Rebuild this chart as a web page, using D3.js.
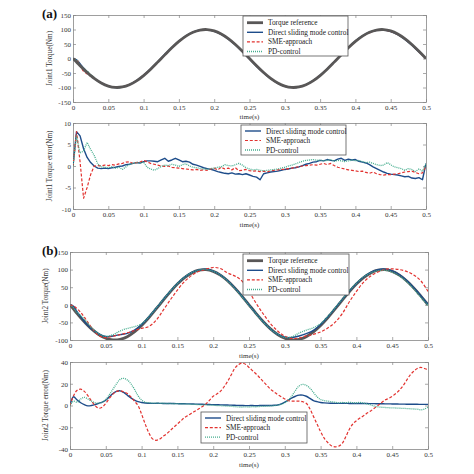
<!DOCTYPE html>
<html>
<head>
<meta charset="utf-8">
<script src="https://cdn.jsdelivr.net/npm/d3@7"></script>
<style>
  body { margin: 0; background: #fff; }
  svg { font-family: "Liberation Serif", "DejaVu Serif", serif; }
</style>
</head>
<body>
<script>
// sample times for the torque curves (finer at the start)
const torqueTime = [0, 0.005, 0.01, 0.015, 0.02, 0.025, 0.03,
  0.04, 0.05, 0.06, 0.07, 0.08, 0.09, 0.1, 0.11, 0.12, 0.13, 0.14, 0.15, 0.16, 0.17, 0.18, 0.19,
  0.2, 0.21, 0.22, 0.23, 0.24, 0.25, 0.26, 0.27, 0.28, 0.29, 0.3, 0.31, 0.32, 0.33, 0.34, 0.35,
  0.36, 0.37, 0.38, 0.39, 0.4, 0.41, 0.42, 0.43, 0.44, 0.45, 0.46, 0.47, 0.48, 0.49, 0.5];

// torque reference (same in both joints)
const torqueRef = [0, -12.5, -24.9, -36.8, -48.2, -58.8, -68.5,
  -84.4, -95.1, -99.8, -98.2, -90.5, -77.1, -58.8, -36.8, -12.5, 12.5, 36.8, 58.8, 77.1, 90.5, 98.2, 99.8,
  95.1, 84.4, 68.5, 48.2, 24.9, 0, -24.9, -48.2, -68.5, -84.4, -95.1, -99.8, -98.2, -90.5, -77.1, -58.8,
  -36.8, -12.5, 12.5, 36.8, 58.8, 77.1, 90.5, 98.2, 99.8, 95.1, 84.4, 68.5, 48.2, 24.9, 0];

// joint 1 torque
const j1Dsmc = [0, -4.5, -17.9, -32.8, -46.2, -58, -68.5,
  -85, -95.7, -100.1, -98.2, -90.1, -76.3, -57.8, -35.6, -11.5, 14.3, 38.2, 60.2, 78.2, 90.9, 98.1, 99.2,
  94.1, 82.9, 66.7, 46.3, 22.9, -2.1, -27.5, -50, -69.9, -85.6, -95.9, -100.3, -98.4, -90.1, -76.2, -57.5,
  -35.3, -11.3, 14.3, 38.4, 60.3, 78, 90.8, 97.6, 98.4, 93.2, 82.3, 66, 45.4, 22.2, 0.6];
const j1Sme = [0, -4.5, -23.9, -44.3, -53.2, -60.8, -68.5,
  -84.4, -95, -99.6, -97.6, -89.5, -76.3, -57.5, -36.2, -12.3, 12.4, 36.5, 58.3, 76.4, 89.6, 97.2, 98.8,
  94.6, 84.1, 68, 47.8, 23.9, -1.1, -26, -49.4, -69.6, -85.3, -95.9, -100.3, -98.4, -90.4, -76.8, -58.4,
  -36.5, -12.4, 12, 35.9, 57.7, 75.9, 88.8, 96.4, 97.7, 93.1, 82.6, 67.1, 47, 23.1, 0];
const j1Pd = [0, -5.5, -21.9, -33.3, -42.7, -55, -66,
  -84.6, -95.5, -100.3, -99, -90.1, -76.3, -57.9, -37.5, -13.1, 12.7, 37.2, 58.7, 77.6, 90.2, 97.6, 99,
  94.6, 84.2, 68.6, 48.5, 25.1, -0.7, -25.7, -49.3, -69.4, -85.1, -95.4, -99.6, -97.4, -89.2, -75.6, -57.4,
  -35.5, -11.4, 13.7, 38, 60, 78.1, 91.4, 98.5, 100, 95.4, 84, 67.5, 47.4, 24.2, 0.5];

// joint 2 torque
const j2Dsmc = [0, -4.5, -19.9, -34.3, -47.4, -59.1, -68.5,
  -82.4, -90.1, -88.8, -84.7, -81, -72.1, -56, -34.7, -10.5, 14.4, 38.6, 60.5, 78.7, 91.9, 99.4, 100.8,
  95.9, 85, 68.9, 48.4, 24.9, -0.1, -25.1, -48.2, -68.5, -83.9, -92.1, -92.8, -88.7, -82, -72.6, -56,
  -34.6, -10.5, 14.5, 38.7, 60.7, 78.9, 92.2, 99.8, 101.3, 96.5, 85.7, 69.7, 49.3, 25.9, 1];
const j2Sme = [0, -3.5, -10.9, -21.8, -35.2, -49.8, -64.5,
  -86.9, -93.1, -89.3, -84.7, -79.5, -73.1, -66.8, -61.8, -44.5, -16, 13.8, 41.8, 66.1, 83.5, 95.2, 101.3,
  106, 103, 90.5, 82.2, 68, 38, 4.1, -26.2, -53.5, -74.4, -89.1, -95.8, -94.2, -88.5, -84, -77,
  -66, -50, -26, 8, 38, 64, 82, 93, 101, 102, 100, 95, 85, 68, 38];
const j2Pd = [0, -8.5, -21.9, -30.8, -40.7, -52.8, -64.5,
  -82.2, -89.6, -84.8, -74.2, -67, -62.1, -53.8, -34.3, -10.2, 14.6, 38.7, 60.5, 78.6, 91.6, 99, 100.3,
  95.3, 84.2, 67.9, 47.2, 23.4, -1.4, -26.1, -49, -68.9, -84.1, -92.6, -90.8, -80.2, -72, -65.1, -53.3,
  -32.8, -9.5, 15.3, 39.8, 61.3, 79.3, 91, 97, 98, 92.9, 81.9, 65.7, 45, 20.9, -1.5];

// error curves are sampled every 0.005 s
const errTime = d3.range(101).map(i => i / 200);

const j1ErrDsmc = [
  0, 8, 7, 4, 2, 0.8, 0, -0.5, -0.6, -0.5,
  -0.6, -0.4, -0.3, -0.1, 0, 0.3, 0.4, 0.6, 0.8, 0.7,
  1.0, 1.2, 1.2, 1.1, 1.0, 1.4, 1.8, 1.1, 1.4, 1.8,
  1.4, 1.0, 1.1, 0.9, 0.4, 0.2, -0.1, -0.4, -0.6, -0.8,
  -1.0, -1.3, -1.5, -1.7, -1.8, -1.6, -1.9, -1.8, -2.0, -1.8,
  -2.1, -2.4, -2.6, -3.2, -1.8, -1.6, -1.4, -1.3, -1.2, -1.0,
  -0.8, -0.7, -0.5, -0.4, -0.2, 0.1, 0.4, 0.6, 0.9, 1.0,
  1.3, 1.2, 1.5, 1.3, 1.2, 1.6, 1.8, 1.3, 1.6, 1.4,
  1.5, 1.1, 0.9, 0.7, 0.3, -0.2, -0.6, -1.0, -1.4, -1.7,
  -1.9, -2.0, -2.1, -2.3, -2.5, -2.4, -2.8, -2.9, -2.7, -3.2,
  0.6];
const j1ErrSme = [
  0, 8, 1, -7.5, -5, -2, 0, 0.1, 0, 0.2,
  0.1, 0.3, 0.2, 0.5, 0.6, 0.9, 1.0, 0.6, 0.8, 0.9,
  1.3, 1.0, 0.6, 0.4, 0.2, 0.0, -0.1, 0.0, -0.3, -0.4,
  -0.5, -0.6, -0.7, -0.8, -0.9, -0.8, -1.0, -0.9, -1.0, -0.7,
  -0.5, -0.9, -0.3, -0.7, -0.5, -0.9, -0.4, -1.1, -1.0, -0.8,
  -1.1, -1.2, -1.1, -1.3, -1.2, -1.4, -1.1, -1.0, -0.9, -0.8,
  -0.8, -0.6, -0.5, -0.3, -0.2, 0.0, 0.1, 0.2, 0.3, 0.2,
  0.4, 0.6, 0.3, 0.6, 0.1, -0.3, -0.5, -0.7, -0.9, -1.0,
  -1.1, -1.3, -1.2, -1.5, -1.7, -1.4, -1.8, -2.0, -2.1, -2.0,
  -2.0, -1.9, -1.8, -1.6, -1.4, -1.3, -1.2, -1.5, -1.8, -1.6,
  0.0];
const j1ErrPd = [
  0, 7, 3, 3.5, 5.5, 3.8, 2.5, 0.5, -0.2, -0.3,
  -0.4, -0.2, -0.5, -0.3, -0.8, -0.2, 0.4, 0.6, 0.8, 0.7,
  0.9, -0.3, -0.7, -1.0, -0.6, -0.1, 0.2, 0.1, 0.4, 0.2,
  -0.1, 0.3, 0.5, 0.0, -0.3, -0.4, -0.6, -0.7, -0.8, -0.6,
  -0.5, -0.3, -0.2, 0.3, 0.1, 0.0, 0.3, 0.6, 0.2, -0.4,
  -0.7, -0.9, -0.8, -1.0, -1.1, -1.0, -0.9, -0.8, -0.7, -0.5,
  -0.3, 0.0, 0.2, 0.5, 0.8, 1.1, 1.3, 1.4, 1.5, 1.3,
  1.4, 1.2, 1.3, 1.5, 1.1, 1.3, 1.2, 1.0, 1.2, 1.4,
  1.2, 1.3, 1.0, 0.8, 0.9, 0.6, 0.3, 0.1, 0.2, 0.8,
  0.3, -0.2, -0.4, -0.6, -1.0, -0.6, -0.8, -1.3, -0.7, -1.2,
  0.5];

const j2ErrDsmc = [
  0, 8, 5, 2.5, 0.8, -0.3, 0, 0.8, 2, 3.2,
  5, 8, 11, 13, 13.5, 12, 9.5, 7, 5, 3.5,
  2.8, 2.3, 2.1, 2, 2, 2, 1.9, 1.9, 1.8, 1.8,
  1.7, 1.6, 1.6, 1.5, 1.4, 1.3, 1.2, 1.1, 1, 0.9,
  0.8, 0.7, 0.6, 0.5, 0.4, 0.3, 0.2, 0.1, 0, -0.1,
  -0.1, 0, -0.2, 0, 0, 0, 0, 0.2, 0.5, 1.5,
  3, 5, 7, 8.5, 9.5, 9.5, 8.5, 6.5, 4.5, 3.5,
  2.8, 2.4, 2.2, 2.1, 2, 2, 2, 2, 1.9, 1.9,
  1.9, 1.8, 1.8, 1.8, 1.7, 1.7, 1.6, 1.6, 1.5, 1.5,
  1.4, 1.4, 1.3, 1.3, 1.2, 1.2, 1.1, 1.1, 1, 1,
  1];
const j2ErrSme = [
  0, 9, 14, 15, 13, 9, 4, 0, -2.5, -1.5,
  2, 6.5, 10.5, 13, 13.5, 12.5, 11, 8, 4, 0,
  -8, -17, -25, -30.5, -32, -31, -28.5, -26, -23, -20,
  -17, -14, -11, -9, -7, -5, -3, -1, 1.5, 5,
  8.5, 10.5, 13, 17, 22, 28, 34, 37.5, 39, 38,
  35, 32, 29, 25.5, 22, 18.5, 15, 12.5, 10, 8,
  6, 4.5, 4, 4, 4, 3.5, 2, -3, -10, -17,
  -24, -30, -34, -37, -38, -37.5, -35, -29, -22, -17,
  -14, -11.5, -9.5, -7, -5, -2.5, 0, 2.5, 5, 6.5,
  8.5, 11, 14, 18, 23, 28, 31.5, 34, 35, 34,
  33];
const j2ErrPd = [
  0, 4, 3, 6, 7.5, 6, 4, 2.5, 2.2, 3,
  5.5, 10, 15, 20, 24, 25, 23.5, 20, 15, 9,
  5, 3, 2.5, 2.2, 2.3, 2, 2.1, 1.8, 1.9, 1.6,
  1.7, 1.4, 1.5, 1.2, 1.1, 1, 0.8, 0.6, 0.5, 0.3,
  0.2, 0, -0.2, -0.4, -0.6, -0.8, -1, -1.3, -1.5, -1.2,
  -1.4, -1.1, -1.2, -0.9, -0.8, -0.6, -0.4, -0.2, 0.3, 1,
  2.5, 5, 9, 14, 18, 19.5, 18.5, 16, 12, 8,
  5.5, 4.5, 4, 3.5, 3, 2.5, 2.8, 2.5, 3, 2.6,
  2.5, 2.8, 2.2, 1.5, 0.5, -0.5, -1.2, -1.6, -1.8, -2,
  -2.2, -2.3, -2.5, -2.6, -2.8, -3, -3.2, -3.4, -4, -3.2,
  -1.5];

// ticks and names
const timeTicks = [0, 0.05, 0.1, 0.15, 0.2, 0.25, 0.3, 0.35, 0.4, 0.45, 0.5];
const torqueTicks = [-150, -100, -50, 0, 50, 100, 150];
const j1ErrTicks = [-10, -5, 0, 5, 10];
const j2TorqueTicks = [-100, -50, 0, 50, 100, 150];
const j2ErrTicks = [-40, -20, 0, 20, 40];
const seriesNames = {
  ref: "Torque reference",
  dsmc: "Direct sliding mode control",
  sme: "SME-approach",
  pd: "PD-control"
};

const width = 474;
const height = 474;

const STYLE = {
  ref: { color: "#595757", width: 2.8, dash: null },
  dsmc: { color: "#1d4c8a", width: 1.4, dash: null },
  sme: { color: "#e2322f", width: 1.2, dash: "3,1.8" },
  pd: { color: "#45ad8e", width: 1.3, dash: "1,1" }
};

const svg = d3.select("body")
  .append("svg")
  .attr("width", width)
  .attr("height", height);

let clipCount = 0;

const drawPanel = (cfg) => {
  const x = d3.scaleLinear().domain([0, 0.5]).range([cfg.left, cfg.right]);
  const y = d3.scaleLinear().domain(cfg.yDomain).range([cfg.bottom, cfg.top]);
  const g = svg.append("g");

  const clipId = "clip" + (clipCount++);
  g.append("clipPath").attr("id", clipId)
    .append("rect")
    .attr("x", cfg.left).attr("y", cfg.top)
    .attr("width", cfg.right - cfg.left).attr("height", cfg.bottom - cfg.top);

  // axes, MATLAB style box with inward ticks
  const styleAxis = (sel) => {
    sel.selectAll(".domain").attr("stroke", "#858585").attr("stroke-width", 0.8);
    sel.selectAll(".tick line").attr("stroke", "#858585").attr("stroke-width", 0.7);
    sel.selectAll("text").attr("fill", "#333").style("font-size", "7px")
      .style("font-family", '"Liberation Serif", serif');
  };
  g.append("g")
    .attr("transform", `translate(0,${cfg.bottom})`)
    .call(d3.axisBottom(x).tickValues(timeTicks).tickSizeInner(-3).tickSizeOuter(0)
      .tickPadding(3).tickFormat(d => String(d)))
    .call(styleAxis);
  g.append("g")
    .attr("transform", `translate(0,${cfg.top})`)
    .call(d3.axisTop(x).tickValues(timeTicks).tickSizeInner(-3).tickSizeOuter(0).tickFormat(""))
    .call(styleAxis);
  g.append("g")
    .attr("transform", `translate(${cfg.left},0)`)
    .call(d3.axisLeft(y).tickValues(cfg.yTicks).tickSizeInner(-3).tickSizeOuter(0)
      .tickPadding(2).tickFormat(d => String(d)))
    .call(styleAxis);
  g.append("g")
    .attr("transform", `translate(${cfg.right},0)`)
    .call(d3.axisRight(y).tickValues(cfg.yTicks).tickSizeInner(-3).tickSizeOuter(0).tickFormat(""))
    .call(styleAxis);

  // curves
  const lines = g.append("g").attr("clip-path", `url(#${clipId})`);
  cfg.series.forEach(s => {
    const st = STYLE[s.key];
    const line = d3.line()
      .x((d, i) => x(s.t[i]))
      .y(d => y(d))
      .curve(cfg.curve);
    lines.append("path")
      .datum(s.v)
      .attr("d", line)
      .attr("fill", "none")
      .attr("stroke", st.color)
      .attr("stroke-width", st.width)
      .attr("stroke-dasharray", st.dash)
      .attr("stroke-linejoin", "round");
  });

  // axis labels
  g.append("text")
    .attr("x", (cfg.left + cfg.right) / 2)
    .attr("y", cfg.xLabelY)
    .attr("text-anchor", "middle")
    .style("font-size", "7px")
    .attr("fill", "#333")
    .text("time(s)");
  g.append("text")
    .attr("transform", `translate(${cfg.yLabelX},${(cfg.top + cfg.bottom) / 2}) rotate(-90)`)
    .attr("text-anchor", "middle")
    .style("font-size", "7.2px")
    .attr("fill", "#333")
    .text(cfg.yLabel);

  // legend
  const lg = cfg.legend;
  const legend = g.append("g");
  legend.append("rect")
    .attr("x", lg.x).attr("y", lg.y)
    .attr("width", lg.w).attr("height", lg.h)
    .attr("fill", "#fff")
    .attr("stroke", "#555")
    .attr("stroke-width", 0.8);
  lg.keys.forEach((k, i) => {
    const st = STYLE[k];
    const ry = lg.y + lg.first + i * lg.step;
    legend.append("line")
      .attr("x1", lg.x + 4).attr("x2", lg.x + 20)
      .attr("y1", ry).attr("y2", ry)
      .attr("stroke", st.color)
      .attr("stroke-width", st.width)
      .attr("stroke-dasharray", st.dash);
    legend.append("text")
      .attr("x", lg.x + 25)
      .attr("y", ry + 2.5)
      .style("font-size", "7.3px")
      .attr("fill", "#222")
      .text(seriesNames[k]);
  });
};

drawPanel({
  left: 73, right: 426, top: 15, bottom: 102,
  yDomain: [-150, 150], yTicks: torqueTicks,
  yLabel: "Joint1 Torque(Nm)", yLabelX: 52, xLabelY: 118.5,
  curve: d3.curveCatmullRom,
  series: [
    { key: "dsmc", t: torqueTime, v: j1Dsmc },
    { key: "sme", t: torqueTime, v: j1Sme },
    { key: "pd", t: torqueTime, v: j1Pd },
    { key: "ref", t: torqueTime, v: torqueRef }
  ],
  legend: { x: 243, y: 16, w: 105, h: 40, first: 6.7, step: 9.6, keys: ["ref", "dsmc", "sme", "pd"] }
});

drawPanel({
  left: 73, right: 426, top: 123, bottom: 209,
  yDomain: [-10, 10], yTicks: j1ErrTicks,
  yLabel: "Joint1 Torque error(Nm)", yLabelX: 52, xLabelY: 226.5,
  curve: d3.curveLinear,
  series: [
    { key: "dsmc", t: errTime, v: j1ErrDsmc },
    { key: "sme", t: errTime, v: j1ErrSme },
    { key: "pd", t: errTime, v: j1ErrPd }
  ],
  legend: { x: 241, y: 125, w: 105, h: 30, first: 6, step: 9.5, keys: ["dsmc", "sme", "pd"] }
});

drawPanel({
  left: 70, right: 428, top: 252, bottom: 340,
  yDomain: [-100, 150], yTicks: j2TorqueTicks,
  yLabel: "Joint2 Torque(Nm)", yLabelX: 48, xLabelY: 357.5,
  curve: d3.curveCatmullRom,
  series: [
    { key: "ref", t: torqueTime, v: torqueRef },
    { key: "dsmc", t: torqueTime, v: j2Dsmc },
    { key: "sme", t: torqueTime, v: j2Sme },
    { key: "pd", t: torqueTime, v: j2Pd }
  ],
  legend: { x: 243, y: 254, w: 106, h: 41, first: 6.7, step: 9.6, keys: ["ref", "dsmc", "sme", "pd"] }
});

drawPanel({
  left: 70, right: 428, top: 362, bottom: 449,
  yDomain: [-40, 40], yTicks: j2ErrTicks,
  yLabel: "Joint2 Torque error(Nm)", yLabelX: 48, xLabelY: 466.5,
  curve: d3.curveCatmullRom,
  series: [
    { key: "dsmc", t: errTime, v: j2ErrDsmc },
    { key: "sme", t: errTime, v: j2ErrSme },
    { key: "pd", t: errTime, v: j2ErrPd }
  ],
  legend: { x: 201, y: 412, w: 106, h: 31, first: 6, step: 9.6, keys: ["dsmc", "sme", "pd"] }
});

// panel tags
svg.append("text").attr("x", 42).attr("y", 18)
  .style("font-size", "13px").style("font-weight", "bold").attr("fill", "#111").text("(a)");
svg.append("text").attr("x", 42).attr("y", 255)
  .style("font-size", "13px").style("font-weight", "bold").attr("fill", "#111").text("(b)");
</script>
</body>
</html>
